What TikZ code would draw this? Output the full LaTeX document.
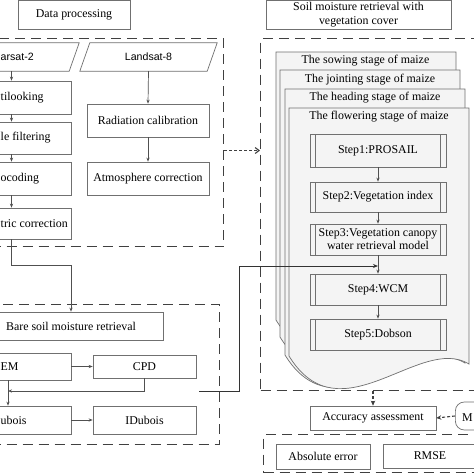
\documentclass[tikz,border=0pt]{standalone}
\usepackage{fontspec}
\setmainfont{Liberation Serif}
\newfontfamily\sansf{Liberation Sans}
\usetikzlibrary{arrows.meta}
\definecolor{boxc}{HTML}{707070}
\definecolor{dashc}{HTML}{404040}
\definecolor{linec}{HTML}{505050}
\definecolor{pagec}{HTML}{F4F4F4}
\newcommand\fsz{\fontsize{11.9pt}{14pt}\selectfont}
\newcommand\ssz{\sansf\fontsize{10.6pt}{13pt}\selectfont}
\newcommand\pagepath[3]{%
  \filldraw[page] (#1,#2) -- ++(180,0) -- ++(0,#3-#2+8) .. controls +(-49,-30) and +(51,83) .. (#1,#3) -- cycle;}
\begin{document}
\begin{tikzpicture}[x=1pt,y=-1pt,
  box/.style={draw=boxc, line width=0.7pt, fill=white, inner sep=2pt, font=\fsz, align=center},
  para/.style={inner sep=0pt, font=\ssz},
  edgetxt/.style={anchor=west, inner sep=0pt, font=\fsz},
  dbox/.style={draw=dashc, line width=1.2pt, dash pattern=on 10pt off 6pt, inner sep=0pt},
  arr/.style={draw=linec, line width=0.7pt, -{Stealth[length=4pt,width=3.2pt]}},
  arrk/.style={draw=black!80, line width=1pt, -{Stealth[length=5pt,width=4pt]}},
  dotarr/.style={draw=dashc, line width=1.1pt, dash pattern=on 3pt off 2pt, -{Stealth[length=5pt,width=4.5pt]}},
  page/.style={draw=boxc, line width=0.7pt, fill=pagec},
  proc/.style={box, fill=pagec, path picture={
     \draw[boxc, line width=0.7pt] ([xshift=5pt]path picture bounding box.north west) -- ([xshift=5pt]path picture bounding box.south west);
     \draw[boxc, line width=0.7pt] ([xshift=-6pt]path picture bounding box.north east) -- ([xshift=-6pt]path picture bounding box.south east);}},
]
\useasboundingbox (0,0) rectangle (474,474);
\fill[white] (0,0) rectangle (474,474);
\clip (0,0) rectangle (474,474);

% headers
\node[box, minimum width=112pt, minimum height=28.5pt] (dphead) at (74,14.75) {Data processing};
\node[box, minimum width=185pt, minimum height=28.5pt] (svhead) at (358.5,14.75) {Soil moisture retrieval with\\vegetation cover};

% dashed groups
\node[dbox, minimum width=233pt, minimum height=208pt, anchor=north west] (dpbox) at (-10,38) {};
\node[dbox, minimum width=230pt, minimum height=352pt, anchor=north west] (vegbox) at (260,38) {};
\node[dbox, minimum width=229pt, minimum height=140pt, anchor=north west] (bsbox) at (-10,304) {};
\node[dbox, minimum width=227pt, minimum height=38pt, anchor=north west] (errbox) at (263,434) {};

% sources
\node[para, minimum width=127pt, minimum height=28pt] (radar) at (10.5,57) {};
\node[para, anchor=west] (radart) at (0.5,57) {arsat-2};
\node[para, minimum width=127pt, minimum height=28pt] (land) at (148.5,57) {Landsat-8};
\draw[boxc, line width=0.7pt] ([xshift=5pt]radar.north west) -- ([xshift=5pt]radar.north east) -- ([xshift=-5pt]radar.south east) -- ([xshift=-5pt]radar.south west) -- cycle;
\draw[boxc, line width=0.7pt] ([xshift=5pt]land.north west) -- ([xshift=5pt]land.north east) -- ([xshift=-5pt]land.south east) -- ([xshift=-5pt]land.south west) -- cycle;

% SAR chain
\node[box, minimum width=120pt, minimum height=33pt] (multi) at (11.5,97.5) {};
\node[edgetxt] (multit) at (0.5,97.5) {tilooking};
\node[box, minimum width=120pt, minimum height=32pt] (speck) at (11.5,138) {};
\node[edgetxt] (speckt) at (0.5,138) {le filtering};
\node[box, minimum width=120pt, minimum height=33pt] (geo) at (11.5,178.5) {};
\node[edgetxt] (geot) at (0.5,178.5) {ocoding};
\node[box, minimum width=120pt, minimum height=31pt] (radio) at (11.5,223.5) {};
\node[edgetxt] (radiot) at (0.5,223.5) {tric correction};
\draw[arr] (radar.south -| multi) -- (multi.north);
\draw[arr] (multi.south) -- (speck.north);
\draw[arr] (speck.south) -- (geo.north);
\draw[arr] (geo.south) -- (radio.north);

% optical chain
\node[box, minimum width=122pt, minimum height=33pt] (radcal) at (148,120.5) {Radiation calibration};
\node[box, minimum width=122pt, minimum height=33pt] (atmo) at (148,178.5) {Atmosphere correction};
\draw[arr] (land.south) -- (radcal.north);
\draw[arr] (radcal.south) -- (atmo.north);

% bare soil
\node[box, minimum width=184pt, minimum height=28pt] (bare) at (71,326) {Bare soil moisture retrieval};
\node[box, minimum width=126pt, minimum height=27pt] (iem) at (8,366.5) {};
\node[edgetxt] (iemt) at (0.5,366.5) {EM};
\node[box, minimum width=103pt, minimum height=23pt] (cpd) at (144.5,366.5) {CPD};
\node[box, minimum width=126pt, minimum height=28pt] (dub) at (8,420) {};
\node[edgetxt] (dubt) at (0.5,420) {ubois};
\node[box, minimum width=103pt, minimum height=28pt] (idub) at (144.5,420) {IDubois};
\coordinate (c1) at (0,265);
\coordinate (c2) at (0,391);
\draw[arr] (radio.south) -- (radio.south |- c1) -| (bare.north);
\draw[arr] (iem.east) -- (cpd.west);
\draw[arr] (cpd.south) |- (iem.south |- c2);
\draw[arr] (iem.south) -- (dub.north);
\draw[arr] (dub.east) -- (idub.west);

% stage pages
\pagepath{276}{52}{320}
\pagepath{280}{70}{337}
\pagepath{285}{89}{355}
\pagepath{289}{108}{356}
\node[font=\fsz, inner sep=0pt] (sow) at (365.5,61) {The sowing stage of maize};
\node[font=\fsz, inner sep=0pt] (joint) at (370,80) {The jointing stage of maize};
\node[font=\fsz, inner sep=0pt] (head) at (375,98) {The heading stage of maize};
\node[font=\fsz, inner sep=0pt] (flow) at (379,117) {The flowering stage of maize};

% steps
\node[proc, minimum width=136pt, minimum height=33pt] (s1) at (378,150.5) {Step1:PROSAIL};
\node[proc, minimum width=136pt, minimum height=30pt] (s2) at (378,197) {Step2:Vegetation index};
\node[proc, minimum width=136pt, minimum height=31pt] (s3) at (378,239.5) {Step3:Vegetation canopy\\[-1pt]water retrieval model};
\node[proc, minimum width=136pt, minimum height=31pt] (s4) at (378,289.5) {Step4:WCM};
\node[proc, minimum width=136pt, minimum height=31pt] (s5) at (378,334.5) {Step5:Dobson};
\draw[arr] (s1.south) -- (s2.north);
\draw[arr] (s2.south) -- (s3.north);
\draw[arr] (s3.south) -- (s4.north);
\draw[arr] (s4.south) -- (s5.north);

% bare soil result into WCM
\coordinate (bsout) at (199,391);
\coordinate (turn) at (239,391);
\coordinate (join) at (378,266);
\draw[arrk] (bsout) -- (turn) |- (join);

% data processing to vegetation block
\draw[dotarr, -{Straight Barb[length=4pt,width=6pt]}] (dpbox.east |- s1) -- (vegbox.west |- s1);

% accuracy
\node[box, minimum width=126pt, minimum height=24pt] (acc) at (373,418) {Accuracy assessment};
\node[draw=boxc, line width=0.7pt, rounded corners=9pt, minimum width=70pt, minimum height=28pt, anchor=west, inner sep=0pt] (meas) at (455,416) {};
\node[font=\fsz, anchor=west, inner sep=0pt] (mtxt) at (462,418) {M};
\draw[dotarr] (vegbox.south -| acc) -- (acc.north);
\draw[dotarr] (meas.west) -- (acc.east);

\node[box, minimum width=94pt, minimum height=25pt] (abse) at (323,456.5) {Absolute error};
\node[box, minimum width=94pt, minimum height=24pt] (rmse) at (430,456) {RMSE};
\end{tikzpicture}
\end{document}
